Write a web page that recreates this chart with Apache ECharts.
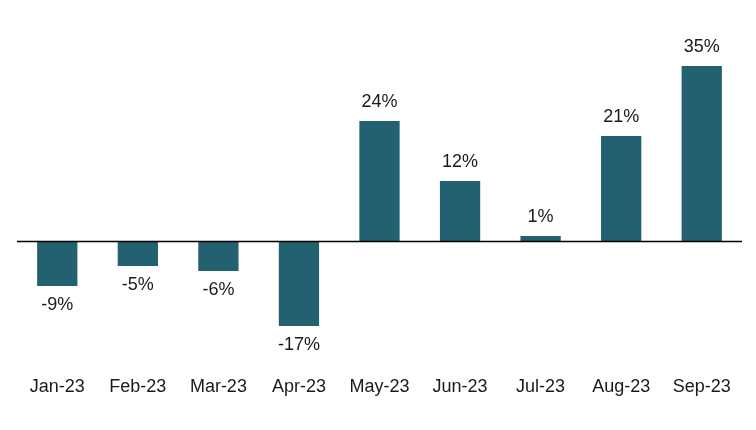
<!doctype html>
<html>
<head>
<meta charset="UTF-8">
<title>Monthly change</title>
<script src="https://cdn.jsdelivr.net/npm/echarts@6/dist/echarts.min.js"></script>
<style>
html,body{margin:0;padding:0;background:#fff;}
#main{width:756px;height:430px;}
</style>
</head>
<body>
<div id="main"></div>
<script type="text/javascript">
// categories and values (percent)
var months = ['Jan-23','Feb-23','Mar-23','Apr-23','May-23','Jun-23','Jul-23','Aug-23','Sep-23'];
var changes = [-9, -5, -6, -17, 24, 12, 1, 21, 35];

var chart = echarts.init(document.getElementById('main'));
var option = {
	animation: false,
	backgroundColor: '#ffffff',
	grid: {
		left: 17,
		right: 14,
		top: 41,
		bottom: 89
	},
	xAxis: [{
		type: 'category',
		data: months,
		position: 'bottom',
		axisLine: { show: false },
		axisTick: { show: false },
		axisLabel: {
			margin: 37,
			color: '#1a1a1a',
			fontFamily: 'Liberation Sans, Arial',
			fontSize: 18
		}
	}],
	yAxis: [{
		type: 'value',
		min: -20,
		max: 40,
		show: false,
		splitLine: { show: false }
	}],
	series: [{
		type: 'bar',
		data: changes,
		barWidth: '50%',
		itemStyle: { color: '#246170' },
		label: {
			show: true,
			position: 'outside',
			distance: 10,
			color: '#1a1a1a',
			fontFamily: 'Liberation Sans, Arial',
			fontSize: 18,
			formatter: function (p) { return p.value + '%'; }
		},
		markLine: {
			silent: true,
			symbol: ['none', 'none'],
			label: { show: false },
			lineStyle: { color: '#000000', width: 1.3, type: 'solid' },
			data: [{ yAxis: 0 }]
		}
	}]
};
chart.setOption(option);
</script>
</body>
</html>
